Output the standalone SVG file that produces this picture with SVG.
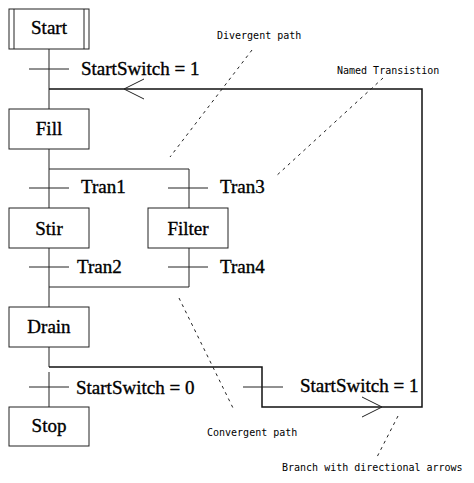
<svg xmlns="http://www.w3.org/2000/svg" width="474" height="483" viewBox="0 0 474 483">
<style>
.box{fill:#fff;stroke:#222;stroke-width:1}
.ln{fill:none;stroke:#222;stroke-width:1}
.lp{fill:none;stroke:#111;stroke-width:1.5}
.bar{stroke:#222;stroke-width:1}
.dash{fill:none;stroke:#222;stroke-width:1;stroke-dasharray:3 4}
.lbl{font-family:"Liberation Serif","Times New Roman",serif;font-size:19px;fill:#000;stroke:#000;stroke-width:0.35}
.bl{text-anchor:middle}
.note{font-family:"DejaVu Sans Mono","Liberation Mono",monospace;font-size:10px;fill:#000}
</style>
<rect width="474" height="483" fill="#fff"/>
<g id="connectors">
<path class="ln" d="M49 49V109M49 149V169M49 169V208M49 248V307M49 347V367M49 372V407"/>
<path class="ln" d="M49 169H189V208M189 248V287H49"/>
<path class="lp" d="M49 89H422V407H262V367H49"/>
<path class="ln" d="M144 79L124 89L144 99"/>
<path class="ln" d="M362 397L382 407L362 417"/>
</g>
<g id="t-start1"><line class="bar" x1="29" y1="69" x2="69" y2="69"/><text class="lbl" x="81" y="75">StartSwitch = 1</text></g>
<g id="t-tran1"><line class="bar" x1="29" y1="188" x2="69" y2="188"/><text class="lbl" x="81" y="193">Tran1</text></g>
<g id="t-tran3"><line class="bar" x1="168" y1="188" x2="208" y2="188"/><text class="lbl" x="220" y="193">Tran3</text></g>
<g id="t-tran2"><line class="bar" x1="29" y1="267" x2="69" y2="267"/><text class="lbl" x="77" y="273">Tran2</text></g>
<g id="t-tran4"><line class="bar" x1="168" y1="267" x2="208" y2="267"/><text class="lbl" x="220" y="273">Tran4</text></g>
<g id="t-start0"><line class="bar" x1="29" y1="387" x2="69" y2="387"/><text class="lbl" x="76" y="394">StartSwitch = 0</text></g>
<g id="t-start1b"><line class="bar" x1="243" y1="387" x2="283" y2="387"/><text class="lbl" x="300" y="392">StartSwitch = 1</text></g>
<g id="n-start"><rect class="box" x="9" y="9" width="80" height="40"/><line class="ln" x1="14" y1="9" x2="14" y2="49"/><line class="ln" x1="84" y1="9" x2="84" y2="49"/><text class="lbl bl" x="49" y="34">Start</text></g>
<g id="n-fill"><rect class="box" x="9" y="109" width="80" height="40"/><text class="lbl bl" x="49" y="135">Fill</text></g>
<g id="n-stir"><rect class="box" x="9" y="208" width="80" height="40"/><text class="lbl bl" x="49" y="235">Stir</text></g>
<g id="n-filter"><rect class="box" x="148" y="208" width="80" height="40"/><text class="lbl bl" x="188" y="235">Filter</text></g>
<g id="n-drain"><rect class="box" x="9" y="307" width="80" height="40"/><text class="lbl bl" x="49" y="333">Drain</text></g>
<g id="n-stop"><rect class="box" x="9" y="407" width="80" height="39"/><text class="lbl bl" x="49" y="432">Stop</text></g>
<g id="annotations">
<text class="note" x="217" y="39">Divergent path</text>
<line class="dash" x1="252" y1="50" x2="170" y2="157"/>
<text class="note" x="337" y="74">Named Transistion</text>
<line class="dash" x1="383" y1="78" x2="275" y2="177"/>
<text class="note" x="207" y="436">Convergent path</text>
<line class="dash" x1="179" y1="298" x2="233" y2="408"/>
<text class="note" x="282" y="471">Branch with directional arrows</text>
<line class="dash" x1="398" y1="416" x2="377" y2="457"/>
</g>
</svg>
